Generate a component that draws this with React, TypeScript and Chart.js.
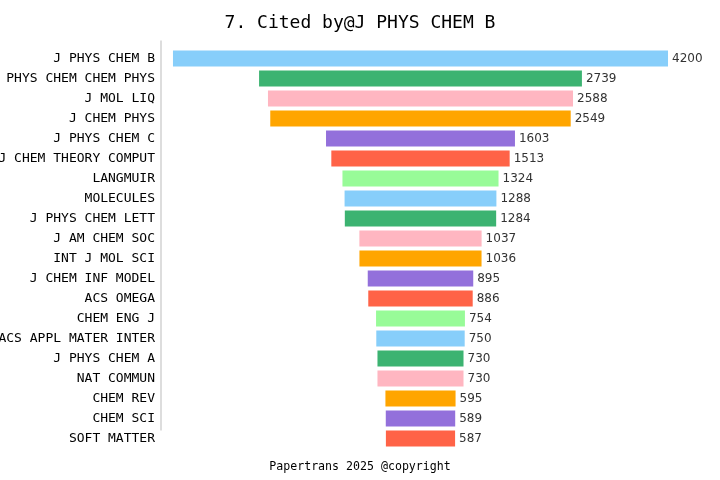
import { useEffect, useRef } from "react"
import { Chart, registerables } from "chart.js"

Chart.register(...registerables)

const journals = [
  "J PHYS CHEM B",
  "PHYS CHEM CHEM PHYS",
  "J MOL LIQ",
  "J CHEM PHYS",
  "J PHYS CHEM C",
  "J CHEM THEORY COMPUT",
  "LANGMUIR",
  "MOLECULES",
  "J PHYS CHEM LETT",
  "J AM CHEM SOC",
  "INT J MOL SCI",
  "J CHEM INF MODEL",
  "ACS OMEGA",
  "CHEM ENG J",
  "ACS APPL MATER INTER",
  "J PHYS CHEM A",
  "NAT COMMUN",
  "CHEM REV",
  "CHEM SCI",
  "SOFT MATTER",
]

const citations = [4200, 2739, 2588, 2549, 1603, 1513, 1324, 1288, 1284, 1037, 1036, 895, 886, 754, 750, 730, 730, 595, 589, 587]

const palette = ["#87CEFA", "#3CB371", "#FFB6C1", "#FFA500", "#9370DB", "#FF6347", "#98FB98"]

const MONO = "'DejaVu Sans Mono', monospace"

// value text to the right of each bar
const valueLabels = {
  id: "valueLabels",
  afterDatasetsDraw(chart: Chart) {
    const ctx = chart.ctx
    const meta = chart.getDatasetMeta(0)
    ctx.save()
    ctx.font = "12px 'DejaVu Sans', sans-serif"
    ctx.fillStyle = "#333"
    ctx.textAlign = "left"
    ctx.textBaseline = "middle"
    meta.data.forEach((bar: any, i: number) => {
      ctx.fillText(String(citations[i]), bar.x + 4, bar.y)
    })
    ctx.restore()
  },
}

// left spine, a bit shorter than the plot area like the original
const leftSpine = {
  id: "leftSpine",
  beforeDatasetsDraw(chart: Chart) {
    const { ctx, chartArea } = chart
    ctx.save()
    ctx.strokeStyle = "#dddddd"
    ctx.lineWidth = 2
    ctx.beginPath()
    ctx.moveTo(chartArea.left + 1, chartArea.top - 8)
    ctx.lineTo(chartArea.left + 1, chartArea.bottom - 18)
    ctx.stroke()
    ctx.restore()
  },
}

export default function App() {
  const canvasRef = useRef<HTMLCanvasElement>(null)
  const chartRef = useRef<Chart | null>(null)

  useEffect(() => {
    if (!canvasRef.current) return
    if (chartRef.current) chartRef.current.destroy()

    chartRef.current = new Chart(canvasRef.current, {
      type: "bar",
      data: {
        labels: journals,
        datasets: [
          {
            data: citations.map((v) => [-v / 2, v / 2]),
            backgroundColor: citations.map((_, i) => palette[i % palette.length]),
            borderWidth: 0,
            barPercentage: 0.8,
            categoryPercentage: 1,
          },
        ],
      },
      options: {
        indexAxis: "y",
        responsive: true,
        maintainAspectRatio: false,
        animation: false,
        layout: { padding: 0 },
        scales: {
          x: {
            display: false,
            min: -2210,
            max: 2541,
          },
          y: {
            grid: { display: false, drawTicks: false },
            border: { display: false },
            ticks: {
              color: "#000",
              padding: 5,
              autoSkip: false,
              font: { family: MONO, size: 13 },
            },
            afterFit(scale: any) {
              scale.width = 160
            },
          },
        },
        plugins: {
          legend: { display: false },
          tooltip: { enabled: false },
          title: {
            display: true,
            text: "7. Cited by@J PHYS CHEM B",
            color: "#000",
            font: { family: MONO, size: 18, weight: "normal" },
            padding: { top: 13, bottom: 14 },
          },
          subtitle: {
            display: true,
            position: "bottom",
            text: "Papertrans 2025 @copyright",
            color: "#000",
            font: { family: MONO, size: 11.6, weight: "normal" },
            padding: { top: 11.5, bottom: 6 },
          },
        },
      },
      plugins: [valueLabels, leftSpine],
    })

    return () => {
      if (chartRef.current) {
        chartRef.current.destroy()
        chartRef.current = null
      }
    }
  }, [])

  return (
    <div style={{ position: "absolute", left: 0, top: 0, width: 720, height: 480, background: "#fff" }}>
      <canvas ref={canvasRef} />
    </div>
  )
}
